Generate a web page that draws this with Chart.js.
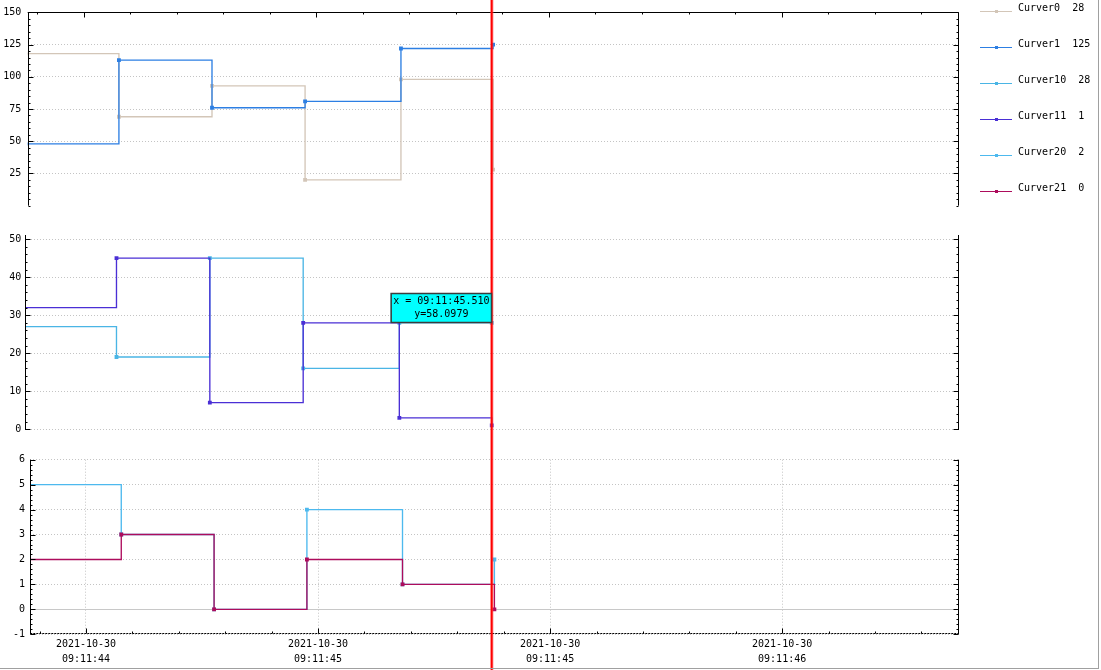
<!DOCTYPE html>
<html>
<head>
<meta charset="utf-8">
<script src="https://cdn.jsdelivr.net/npm/chart.js@4/dist/chart.umd.min.js"></script>
<style>
  html, body { margin: 0; padding: 0; background: #fff; }
  #wrap { position: relative; width: 1101px; height: 670px; overflow: hidden; background: #fff; }
  #wrap canvas { position: absolute; left: 0; }
  #frame { position: absolute; left: 0; top: 0; width: 1099px; height: 669px; box-sizing: border-box;
           border-right: 1px solid #a0a0a0; border-bottom: 1px solid #a0a0a0; pointer-events: none; }
  #legend { position: absolute; left: 980px; top: 0; width: 118px; height: 220px;
            font-family: "DejaVu Sans Mono", monospace; font-size: 10px; color: #000; }
  .item { position: absolute; left: 0; height: 1px; width: 118px; }
  .item .ln { position: absolute; left: 0; top: 0; width: 32px; height: 1px; }
  .item .pt { position: absolute; left: 15px; top: -1px; width: 3px; height: 3px; }
  .item .tx { position: absolute; left: 38px; top: -9px; line-height: 12px; white-space: pre; }
</style>
</head>
<body>
<div id="wrap">
  <canvas id="c1" width="1101" height="222" style="top:0px"></canvas>
  <canvas id="c2" width="1101" height="223" style="top:222px"></canvas>
  <canvas id="c3" width="1101" height="225" style="top:445px"></canvas>
  <div id="legend"></div>
  <div id="frame"></div>
</div>
<script>
// ---------------- data ----------------
const baseDate = '2021-10-30';
const baseClock = '09:11:';
const baseSecond = 44;                 // times below are ms after 09:11:44.000
const sampleTimes = [376, 576, 776, 976, 1182, 1380];

const curver0  = [118, 69, 93, 20, 98, 28];
const curver1  = [48, 113, 76, 81, 122, 125];
const curver10 = [27, 19, 45, 16, 28, 28];
const curver11 = [32, 45, 7, 28, 3, 1];
const curver20 = [5, 3, 0, 4, 1, 2];
const curver21 = [2, 3, 0, 2, 1, 0];

const xRange = [380, 2380];
const xMajorTicks = [500, 1000, 1500, 2000];
const xMinorStep = 100;

const panel1Ticks = [25, 50, 75, 100, 125, 150];
const panel2Ticks = [0, 10, 20, 30, 40, 50];
const panel3Ticks = [-1, 0, 1, 2, 3, 4, 5, 6];

const cursorTime = 1380;
const tooltipLines = ['x = 09:11:45.510', 'y=58.0979'];

// ---------------- styles ----------------
const palette = {
  Curver0:  '#d3c6b8',
  Curver1:  '#2d7fe3',
  Curver10: '#4ab5e5',
  Curver11: '#4a2fd5',
  Curver20: '#4db9ee',
  Curver21: '#ad0c5c'
};
const FONT_FAMILY = '"DejaVu Sans Mono", monospace';
const GRID = '#c4c4c4';

function series(name, values, order) {
  return {
    label: name,
    data: sampleTimes.map((t, i) => ({ x: t, y: values[i] })),
    borderColor: palette[name],
    backgroundColor: palette[name],
    borderWidth: 1.35,
    stepped: 'before',
    pointStyle: 'rect',
    pointRadius: 2.7,
    pointHoverRadius: 2.7,
    pointBorderWidth: 0,
    clip: 0,
    order: order
  };
}

let refChart = null;

const axesPlugin = {
  id: 'axes',
  beforeDatasetsDraw(chart, args, o) {
    if (!o.zeroLine) return;
    const { ctx, chartArea: a } = chart;
    const pz = Math.round(chart.scales.y.getPixelForValue(0)) + 0.5;
    ctx.save();
    ctx.strokeStyle = '#c8c8c8';
    ctx.lineWidth = 1;
    ctx.beginPath(); ctx.moveTo(a.left, pz); ctx.lineTo(a.right, pz); ctx.stroke();
    ctx.restore();
  },
  afterDraw(chart, args, o) {
    const { ctx, chartArea: a } = chart;
    const xs = chart.scales.x, ys = chart.scales.y;
    const L = Math.round(a.left) + 0.5, R = Math.round(a.right) - 0.5;
    const T = Math.round(a.top) + 0.5, B = Math.round(a.bottom) - 0.5;
    ctx.save();
    ctx.lineWidth = 1;
    ctx.strokeStyle = '#000';
    // left and right axis lines
    ctx.beginPath();
    ctx.moveTo(L, a.top); ctx.lineTo(L, a.bottom);
    ctx.moveTo(R, a.top); ctx.lineTo(R, a.bottom);
    ctx.stroke();

    // y ticks (major + minor), pointing inward on both sides
    const yMin = ys.min, yMax = ys.max;
    ctx.beginPath();
    const start = Math.ceil(yMin / o.yMinor - 1e-6);
    for (let k = start; k * o.yMinor <= yMax + 1e-9; k++) {
      const v = k * o.yMinor;
      const isMajor = o.yTicks.some(t => Math.abs(t - v) < 1e-6);
      const py = Math.round(ys.getPixelForValue(v)) + 0.5;
      const len = isMajor ? 5 : 2;
      ctx.moveTo(L, py); ctx.lineTo(L + len, py);
      ctx.moveTo(R, py); ctx.lineTo(R - len, py);
    }
    ctx.stroke();

    function xTicks(yLine, dir) {
      ctx.beginPath();
      const first = Math.ceil(xs.min / xMinorStep);
      for (let k = first; k * xMinorStep <= xs.max; k++) {
        const v = k * xMinorStep;
        const isMajor = xMajorTicks.includes(v);
        const px = Math.round(xs.getPixelForValue(v)) + 0.5;
        const len = isMajor ? 5 : 2;
        ctx.moveTo(px, yLine); ctx.lineTo(px, yLine + dir * len);
      }
      ctx.stroke();
    }
    if (o.topAxis) {
      ctx.beginPath(); ctx.moveTo(a.left, T); ctx.lineTo(a.right, T); ctx.stroke();
      xTicks(T, 1);
    }
    if (o.bottomAxis) {
      ctx.setLineDash([2, 1]);
      ctx.beginPath(); ctx.moveTo(a.left, B); ctx.lineTo(a.right, B); ctx.stroke();
      ctx.setLineDash([]);
      xTicks(B, -1);
    }

    // cursor line (shared position, taken from the middle panel's scale)
    const ref = refChart || chart;
    const cx = ref.scales.x.getPixelForValue(cursorTime);
    ctx.strokeStyle = 'rgba(255,60,60,0.45)';
    ctx.lineWidth = 3.5;
    ctx.beginPath(); ctx.moveTo(cx, 0); ctx.lineTo(cx, chart.height); ctx.stroke();
    ctx.strokeStyle = '#ff0000';
    ctx.lineWidth = 1.8;
    ctx.beginPath(); ctx.moveTo(cx, 0); ctx.lineTo(cx, chart.height); ctx.stroke();

    if (o.tooltip) {
      ctx.font = '10px ' + FONT_FAMILY;
      const w = Math.max(...tooltipLines.map(s => ctx.measureText(s).width)) + 5;
      const h = 30;
      const bx = Math.round(cx) - w;
      const by = Math.round(ys.getPixelForValue(curver10[curver10.length - 1])) - h;
      ctx.fillStyle = '#00ffff';
      ctx.fillRect(bx, by, w, h);
      ctx.strokeStyle = '#3c3c3c';
      ctx.lineWidth = 1.5;
      ctx.strokeRect(bx + 0.5, by + 0.5, w - 1, h - 1);
      ctx.fillStyle = '#000';
      ctx.textAlign = 'center';
      ctx.textBaseline = 'middle';
      ctx.fillText(tooltipLines[0], bx + w / 2, by + 8.5);
      ctx.fillText(tooltipLines[1], bx + w / 2, by + 21.5);
    }
    ctx.restore();
  }
};

function makeChart(id, datasets, cfg) {
  return new Chart(document.getElementById(id), {
    type: 'line',
    data: { datasets },
    options: {
      responsive: false,
      animation: false,
      events: [],
      layout: { padding: { top: cfg.padTop, bottom: cfg.padBottom, left: 0, right: 1101 - 958.5 } },
      plugins: {
        legend: { display: false },
        tooltip: { enabled: false },
        axes: cfg.axes
      },
      scales: {
        x: {
          type: 'linear',
          min: xRange[0], max: xRange[1],
          display: cfg.showX,
          grid: { color: GRID, lineWidth: 1, drawTicks: false },
          border: { display: false, dash: [1, 2] },
          ticks: {
            padding: 3,
            color: '#000',
            maxRotation: 0,
            font: { family: FONT_FAMILY, size: 10, lineHeight: 1.5 },
            callback: v => [baseDate, baseClock + String(baseSecond + Math.floor(v / 1000)).padStart(2, '0')]
          },
          afterBuildTicks: s => { s.ticks = xMajorTicks.map(v => ({ value: v })); },
          afterFit: s => { if (cfg.xHeight) s.height = cfg.xHeight; }
        },
        y: {
          type: 'linear',
          min: cfg.yMin, max: cfg.yMax,
          grid: { color: GRID, lineWidth: 1, drawTicks: false },
          border: { display: false, dash: [1, 2] },
          ticks: { padding: cfg.labelPad, color: '#000', font: { family: FONT_FAMILY, size: 10 } },
          afterBuildTicks: s => { s.ticks = cfg.yTicks.map(v => ({ value: v })); },
          afterFit: s => { s.width = cfg.yWidth; }
        }
      }
    },
    plugins: [axesPlugin]
  });
}

const chart1 = makeChart('c1',
  [series('Curver1', curver1, 0), series('Curver0', curver0, 1)],
  { padTop: 12, padBottom: 16.3, yMin: 0, yMax: 150, yTicks: panel1Ticks, yWidth: 27.7, labelPad: 6.4,
    showX: false, axes: { yTicks: panel1Ticks, yMinor: 5, topAxis: true } });

const chart2 = makeChart('c2',
  [series('Curver11', curver11, 0), series('Curver10', curver10, 1)],
  { padTop: 13, padBottom: 15, yMin: -0.2, yMax: 51.1, yTicks: panel2Ticks, yWidth: 25, labelPad: 3.7,
    showX: false, axes: { yTicks: panel2Ticks, yMinor: 2, tooltip: true } });

const chart3 = makeChart('c3',
  [series('Curver21', curver21, 0), series('Curver20', curver20, 1)],
  { padTop: 14.7, padBottom: 0, yMin: -1, yMax: 6, yTicks: panel3Ticks, yWidth: 30.3, labelPad: 5.3,
    showX: true, xHeight: 35.7, axes: { yTicks: panel3Ticks, yMinor: 0.2, zeroLine: true, bottomAxis: true } });

refChart = chart2;
[chart1, chart2, chart3].forEach(c => c.draw());

// ---------------- legend ----------------
const legendSeries = [
  ['Curver0', curver0], ['Curver1', curver1], ['Curver10', curver10],
  ['Curver11', curver11], ['Curver20', curver20], ['Curver21', curver21]
];
const legendEl = document.getElementById('legend');
legendSeries.forEach(([name, vals], i) => {
  const item = document.createElement('div');
  item.className = 'item';
  item.style.top = (11 + 36 * i) + 'px';
  const ln = document.createElement('span'); ln.className = 'ln'; ln.style.background = palette[name];
  const pt = document.createElement('span'); pt.className = 'pt'; pt.style.background = palette[name];
  const tx = document.createElement('span'); tx.className = 'tx';
  tx.textContent = name + '  ' + vals[vals.length - 1];
  item.appendChild(ln); item.appendChild(pt); item.appendChild(tx);
  legendEl.appendChild(item);
});
</script>
</body>
</html>
